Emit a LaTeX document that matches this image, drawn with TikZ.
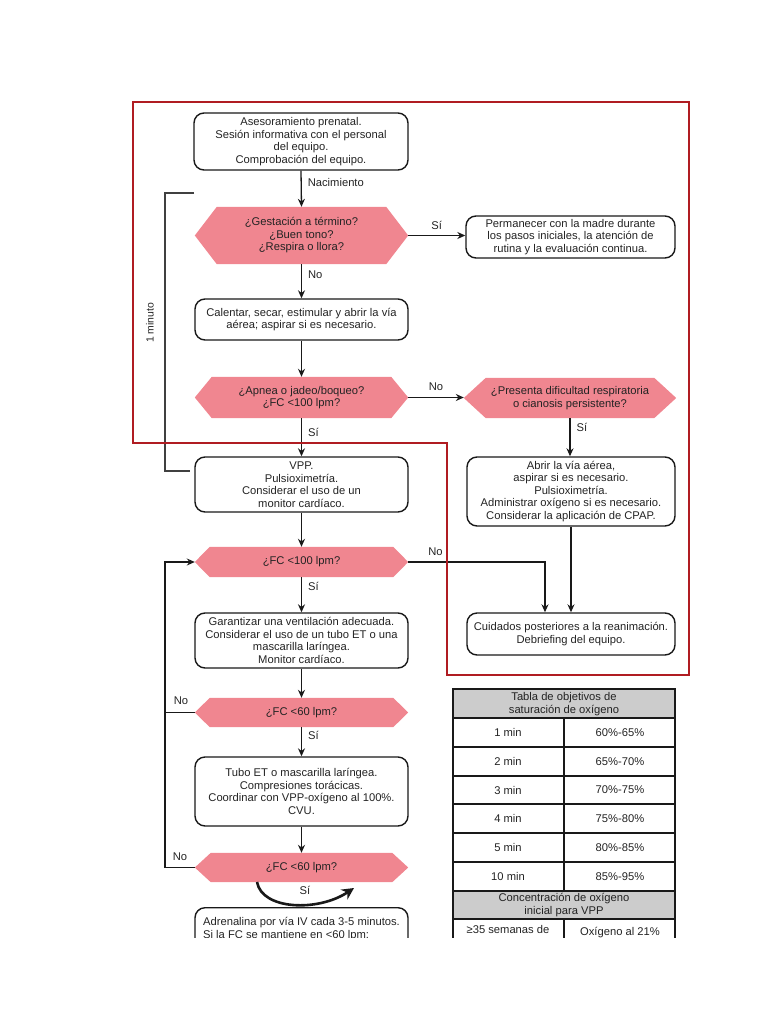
\documentclass[tikz,border=0pt]{standalone}
\usepackage{fontspec}
\setmainfont{Liberation Sans}
\usetikzlibrary{arrows.meta,backgrounds}
\definecolor{framered}{RGB}{176,28,34}
\definecolor{hexpink}{RGB}{240,134,144}
\definecolor{txt}{RGB}{35,35,35}
\definecolor{tgray}{RGB}{204,204,204}
\definecolor{linec}{RGB}{25,25,25}
\newcommand{\fsz}{\fontsize{11.2}{12.5}\selectfont}
\newcommand{\hexbg}[2]{\fill[hexpink] (#1.west) -- ([xshift=#2pt]#1.north west) -- ([xshift=-#2pt]#1.north east) -- (#1.east) -- ([xshift=-#2pt]#1.south east) -- ([xshift=#2pt]#1.south west) -- cycle;}
\tikzset{
 box/.style={draw=linec, line width=1.4pt, rounded corners=10pt, align=center, inner sep=0pt, text=txt, font=\fsz},
 hexn/.style={inner sep=0pt, align=center, text=txt, font=\fsz, minimum width=213pt},
 arr/.style={draw=linec, line width=1.3pt, -{Stealth[length=8pt,width=7pt]}},
 conn/.style={draw=linec, line width=1.3pt},
 lbl/.style={text=txt, font=\fsz, inner sep=0pt},
 tline/.style={draw=linec, line width=2pt},
 tcell/.style={text=txt, font=\fsz, inner sep=0pt, align=center},
}
\begin{document}
\begin{tikzpicture}[x=1pt,y=-1pt]
\useasboundingbox (0,0) rectangle (768,1024);
\begin{scope}
\clip (0,0) rectangle (768,937);
% nodes
\node[box, minimum width=214pt, minimum height=57pt] (b1) at (301,141.5) {Asesoramiento prenatal.\\Sesión informativa con el personal\\del equipo.\\Comprobación del equipo.};
\node[hexn, minimum height=57pt] (h1) at (301.5,235.5) {¿Gestación a término?\\¿Buen tono?\\¿Respira o llora?};
\node[box, minimum width=209pt, minimum height=42pt] (p1) at (570.5,237) {Permanecer con la madre durante\\los pasos iniciales, la atención de\\rutina y la evaluación continua.};
\node[box, minimum width=213pt, minimum height=41pt] (b2) at (301.5,319.5) {Calentar, secar, estimular y abrir la vía\\aérea; aspirar si es necesario.};
\node[hexn, minimum height=41pt] (h2) at (301.5,397.5) {¿Apnea o jadeo/boqueo?\\¿FC <100 lpm?};
\node[hexn, minimum width=212pt, minimum height=40pt] (h3) at (570,398) {¿Presenta dificultad respiratoria\\o cianosis persistente?};
\node[box, minimum width=213pt, minimum height=55pt] (b3) at (301.5,484.5) {VPP.\\Pulsioximetría.\\Considerar el uso de un\\monitor cardíaco.};
\node[box, minimum width=208pt, minimum height=69pt] (b4) at (571,491.5) {Abrir la vía aérea,\\aspirar si es necesario.\\Pulsioximetría.\\Administrar oxígeno si es necesario.\\Considerar la aplicación de CPAP.};
\node[hexn, minimum height=30pt] (h4) at (301.5,562) {¿FC <100 lpm?};
\node[box, minimum width=208pt, minimum height=42pt] (cu) at (571,634) {Cuidados posteriores a la reanimación.\\Debriefing del equipo.};
\node[box, minimum width=213pt, minimum height=55pt] (b5) at (301.5,640.5) {Garantizar una ventilación adecuada.\\Considerar el uso de un tubo ET o una\\mascarilla laríngea.\\Monitor cardíaco.};
\node[hexn, minimum height=29pt] (h5) at (301.5,712.5) {¿FC <60 lpm?};
\node[box, minimum width=213pt, minimum height=69pt] (b6) at (301.5,791.5) {Tubo ET o mascarilla laríngea.\\Compresiones torácicas.\\Coordinar con VPP-oxígeno al 100\%.\\CVU.};
\node[hexn, minimum height=29pt] (h6) at (301.5,867.5) {¿FC <60 lpm?};
\node[box, minimum width=213pt, anchor=north, inner ysep=10pt, align=left] (b7) at (301.5,907) {Adrenalina por vía IV cada 3-5 minutos.\\Si la FC se mantiene en <60 lpm:};
% hexagon backgrounds
\begin{pgfonlayer}{background}
\hexbg{h1}{22}
\hexbg{h2}{17}
\hexbg{h3}{22}
\hexbg{h4}{15}
\hexbg{h5}{15}
\hexbg{h6}{16}
\end{pgfonlayer}
% connectors
\draw[arr] (b1.south) -- node[lbl, pos=0.32, right=6pt] (lnac) {Nacimiento} (h1.north);
\draw[arr] (h1.east) -- node[lbl, pos=0.5, above=5pt] (lsi1) {Sí} (h1.east -| p1.west);
\draw[arr] (h1.south) -- node[lbl, pos=0.31, right=6pt] (lno1) {No} (b2.north);
\draw[arr] (b2.south) -- (h2.north);
\draw[arr] (h2.east) -- node[lbl, pos=0.5, above=6pt] (lno2) {No} (h2.east -| h3.west);
\draw[arr] (h3.south) -- node[lbl, pos=0.25, right=6pt] (lsi2) {Sí} (h3.south |- b4.north);
\draw[arr] (h2.south) -- node[lbl, pos=0.38, right=6pt] (lsi3) {Sí} (b3.north);
\draw[arr] (b3.south) -- (h4.north);
\draw[arr] (h4.east) -| node[lbl, pos=0.1, above=6pt] (lno3) {No} ([xshift=-26pt]cu.north);
\draw[arr] (b4.south) -- (b4.south |- cu.north);
\draw[arr] (h4.south) -- node[lbl, pos=0.25, right=6pt] (lsi4) {Sí} (b5.north);
\draw[arr] (b5.south) -- (h5.north);
\draw[arr] (h5.south) -- node[lbl, pos=0.27, right=6pt] (lsi5) {Sí} (b6.north);
\draw[arr] (b6.south) -- (h6.north);
\coordinate (lb) at (165,867.5);
\coordinate (lt) at (165,562);
\draw[arr] (h6.west) -- (lb) -- (lt) -- (h4.west);
\draw[conn] (h5.west) -- (h5.west -| lb);
\node[lbl] (lno4) at (181,701) {No};
\node[lbl] (lno5) at (180,857) {No};
% curved arrow
\coordinate (cs) at (257,882);
\coordinate (ce) at (354,888);
\draw[draw=linec, line width=2.6pt, -{Stealth[length=12pt,width=12pt]}] (cs) .. controls (262,910) and (318,912) .. (ce);
\node[lbl] (lsi6) at (305,890) {Sí};
% 1 minuto bracket
\coordinate (bt) at (194,193);
\coordinate (bb) at (190,471);
\draw[draw=black!75, line width=1.4pt] (bt) -- (165,193) -- (165,471) -- (bb);
\node[lbl, rotate=90, font=\fontsize{10.4}{11}\selectfont] (lmin) at (150,323) {1 minuto};
% red frame
\draw[framered, line width=2.6pt] (133,102) -- (689,102) -- (689,675) -- (447,675) -- (447,443) -- (133,443) -- cycle;
% table
\fill[tgray] (453,689) rectangle (675,718);
\fill[tgray] (453,891) rectangle (675,919);
\foreach \yy in {689,718,747,776,804,833,862,891,919}{
  \draw[tline] (452,\yy) -- (676,\yy);
}
\draw[tline] (453,688) -- (453,960);
\draw[tline] (675,688) -- (675,960);
\draw[tline] (564,718) -- (564,891);
\draw[tline] (564,919) -- (564,960);
\node[tcell] (th1) at (564,704) {Tabla de objetivos de\\saturación de oxígeno};
\foreach \yc/\aa/\bb in {732.5/1 min/60\%-65\%, 761.5/2 min/65\%-70\%, 790/3 min/70\%-75\%, 818.5/4 min/75\%-80\%, 847.5/5 min/80\%-85\%, 876.5/10 min/85\%-95\%}{
  \node[tcell] at (508,\yc) {\aa};
  \node[tcell] at (620,\yc) {\bb};
}
\node[tcell] (th2) at (564,905) {Concentración de oxígeno\\inicial para VPP};
\node[tcell] (tc1) at (508,929) {≥35 semanas de};
\node[tcell] (tc2) at (620,933) {Oxígeno al 21\%};
\end{scope}
\end{tikzpicture}
\end{document}
